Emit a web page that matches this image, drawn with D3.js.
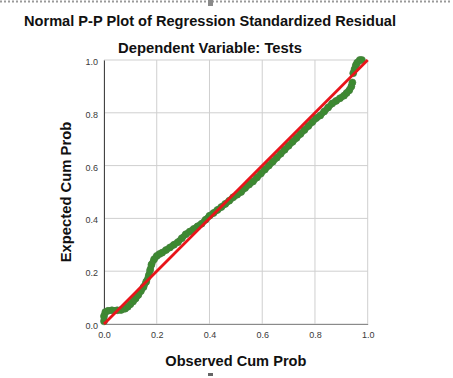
<!DOCTYPE html>
<html>
<head>
<meta charset="utf-8">
<script src="https://cdn.jsdelivr.net/npm/d3@7"></script>
<style>
  body { margin: 0; background: #fff; }
  svg { display: block; font-family: "Liberation Sans", Arial, sans-serif; }
  .grid line { stroke: #cfcfcf; stroke-width: 1; }
  .tick-lbl { font-size: 9px; fill: #3a3a3a; }
  .ttl { font-weight: bold; fill: #111; }
</style>
</head>
<body>
<svg id="chart"></svg>
<script>
// observed cum prob (x) / expected cum prob (y)
const observed = [0.0, 0.0, 0.005, 0.015, 0.03, 0.05, 0.065, 0.08, 0.09, 0.1, 0.11, 0.12, 0.13, 0.14, 0.15,
  0.16, 0.17, 0.175, 0.18, 0.19, 0.2, 0.21, 0.22, 0.235, 0.25, 0.265, 0.28, 0.295, 0.31, 0.325, 0.34,
  0.355, 0.37, 0.385, 0.4, 0.415, 0.43, 0.445, 0.46, 0.475, 0.49, 0.505, 0.52, 0.535, 0.55, 0.565,
  0.58, 0.595, 0.61, 0.625, 0.64, 0.655, 0.67, 0.685, 0.7, 0.715, 0.73, 0.745, 0.76, 0.775, 0.79,
  0.805, 0.82, 0.835, 0.85, 0.865, 0.88, 0.895, 0.91, 0.92, 0.93, 0.938, 0.942,
  0.945, 0.95, 0.955, 0.96, 0.97, 0.978];
const expected = [0.01, 0.03, 0.045, 0.05, 0.052, 0.052, 0.053, 0.058, 0.065, 0.075, 0.085, 0.097, 0.11, 0.125, 0.14,
  0.16, 0.185, 0.205, 0.225, 0.245, 0.258, 0.265, 0.27, 0.28, 0.29, 0.3, 0.31, 0.325, 0.34, 0.35, 0.36,
  0.37, 0.38, 0.395, 0.41, 0.42, 0.432, 0.443, 0.455, 0.467, 0.48, 0.49, 0.5, 0.515, 0.528, 0.54,
  0.555, 0.57, 0.585, 0.6, 0.615, 0.63, 0.645, 0.66, 0.675, 0.69, 0.705, 0.72, 0.735, 0.75, 0.765,
  0.78, 0.79, 0.805, 0.82, 0.835, 0.845, 0.855, 0.865, 0.875, 0.885, 0.9, 0.915,
  0.95, 0.965, 0.98, 0.99, 1.0, 1.0];
const refLine = [[0, 0], [1, 1]];
const ticks = [0, 0.2, 0.4, 0.6, 0.8, 1.0];

const width = 453, height = 378;
const margin = { top: 60, right: 85, bottom: 54, left: 104 };

const svg = d3.select('#chart').attr('width', width).attr('height', height);

const x = d3.scaleLinear().domain([0, 1]).range([margin.left, width - margin.right - 0.3]);
const y = d3.scaleLinear().domain([0, 1]).range([height - margin.bottom, margin.top]);

// dotted frame edge at the top of the screenshot
svg.append('line')
  .attr('x1', 0).attr('x2', 452).attr('y1', 1.5).attr('y2', 1.5)
  .attr('stroke', '#9a9a9a').attr('stroke-width', 2).attr('stroke-dasharray', '2,2');
svg.append('rect').attr('x', 208).attr('y', 0).attr('width', 5).attr('height', 6).attr('fill', '#8a8a8a');
svg.append('rect').attr('x', 208).attr('y', 373).attr('width', 5).attr('height', 3).attr('fill', '#666');

// grid
const grid = svg.append('g').attr('class', 'grid');
grid.selectAll('.gx').data(ticks).enter().append('line')
  .attr('x1', d => x(d)).attr('x2', d => x(d))
  .attr('y1', y(0)).attr('y2', y(1));
grid.selectAll('.gy').data(ticks).enter().append('line')
  .attr('x1', x(0)).attr('x2', x(1))
  .attr('y1', d => y(d)).attr('y2', d => y(d));

// axes
const xAxis = d3.axisBottom(x).tickValues(ticks).tickSize(0).tickPadding(8).tickFormat(d3.format('.1f'));
const yAxis = d3.axisLeft(y).tickValues(ticks).tickSize(0).tickPadding(6).tickFormat(d3.format('.1f'));

const gx = svg.append('g').attr('transform', `translate(0,${y(0)})`).call(xAxis);
gx.select('.domain').attr('stroke', '#8a8a8a');
gx.selectAll('text').attr('class', 'tick-lbl').attr('font-family', null).attr('font-size', null).attr('fill', null);

const gy = svg.append('g').attr('transform', `translate(${x(0)},0)`).call(yAxis);
gy.select('.domain').attr('stroke', '#444');
gy.selectAll('text').attr('class', 'tick-lbl').attr('font-family', null).attr('font-size', null).attr('fill', null)
  .attr('dy', '0.5em');

// points: dense markers overlap into a band, so a thick path sits under them
const pts = observed.map((o, i) => ({ o: o, e: expected[i] }));
const band = svg.append('g');
band.append('path')
  .datum(pts.slice(0, 73))
  .attr('fill', 'none')
  .attr('stroke', '#3b8a2f')
  .attr('stroke-width', 6.5)
  .attr('stroke-linejoin', 'round')
  .attr('d', d3.line().x(d => x(d.o)).y(d => y(d.e)));
band.append('path')
  .datum(pts.slice(73))
  .attr('fill', 'none')
  .attr('stroke', '#3b8a2f')
  .attr('stroke-width', 6.5)
  .attr('stroke-linejoin', 'round')
  .attr('d', d3.line().x(d => x(d.o)).y(d => y(d.e)));
band.selectAll('circle')
  .data(pts)
  .enter()
  .append('circle')
  .attr('cx', d => x(d.o))
  .attr('cy', d => y(d.e))
  .attr('r', 3.5)
  .attr('fill', '#3b8a2f')
  .attr('stroke', '#4a7d43')
  .attr('stroke-width', 0.6);

// reference line
svg.append('path')
  .datum(refLine)
  .attr('fill', 'none')
  .attr('stroke', '#e8141a')
  .attr('stroke-width', 2.8)
  .attr('d', d3.line().x(d => x(d[0])).y(d => y(d[1])));

// titles
svg.append('text').attr('class', 'ttl')
  .attr('x', 210).attr('y', 26).attr('text-anchor', 'middle').attr('font-size', 14.6)
  .text('Normal P-P Plot of Regression Standardized Residual');
svg.append('text').attr('class', 'ttl')
  .attr('x', 210).attr('y', 53).attr('text-anchor', 'middle').attr('font-size', 14.8)
  .text('Dependent Variable: Tests');
svg.append('text').attr('class', 'ttl')
  .attr('x', x(0.5)).attr('y', 366).attr('text-anchor', 'middle').attr('font-size', 14.6)
  .text('Observed Cum Prob');
svg.append('text').attr('class', 'ttl')
  .attr('transform', `translate(70.5,${y(0.5)}) rotate(-90)`)
  .attr('text-anchor', 'middle').attr('font-size', 14.8)
  .text('Expected Cum Prob');
</script>
</body>
</html>
